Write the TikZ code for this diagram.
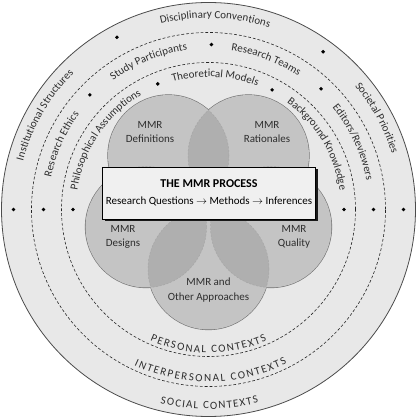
\documentclass[tikz,border=0pt]{standalone}
\usepackage{fontspec}
\setmainfont{Carlito}
\usetikzlibrary{decorations.text,shadows}

\tikzset{
  ringline/.style={draw=black!85, dash pattern=on 2.8pt off 2pt, line width=0.6pt},
  ringlabel/.style={decorate, decoration={text along path, text align=center, text color=labelgray,
      text={|\fontsize{11}{13}\selectfont|#1}}},
  ctxlabel/.style={decorate, decoration={text along path, text align=fit to path, text color=labelgray,
      text={|\fontsize{11}{13}\selectfont|#1}}},
  vennedge/.style={draw=black!55, line width=1.2pt},
  venninner/.style={draw=black!35, dash pattern=on 2pt off 1.6pt, line width=0.5pt},
  vennlabel/.style={text=labelgray, align=center, font=\fontsize{11}{14.5}\selectfont},
  processbox/.style={draw=black, line width=0.8pt, fill=gray!12, minimum width=208pt, minimum height=52pt,
      align=center, font=\fontsize{11}{17}\selectfont,
      drop shadow={shadow xshift=2.5pt, shadow yshift=-2.5pt, fill=black!90, opacity=1}}
}

\begin{document}
\begin{tikzpicture}[x=1pt, y=1pt]
    \colorlet{ringgray}{gray!18}
    \colorlet{venngray}{gray!46}
    \colorlet{overlapgray}{gray!63}
    \colorlet{labelgray}{black!82}
    \useasboundingbox (-208.5,-209.5) rectangle (208.5,209.5);

    % context rings
    \draw[fill=ringgray, draw=black!70, line width=0.8pt] (0,0) circle (207);
    \draw[ringline] (0,0) circle (177);
    \draw[ringline] (0,0) circle (147);

    % ring dots
    \foreach \r/\angs in {195/{0,54,118,180}, 165/{0,47,89,136,180}, 135.5/{0,62,112,180}}
        \foreach \a in \angs
            \fill[black] (\a:\r) circle (1.9);

    % venn circles
    \coordinate (def) at (-40,54);
    \coordinate (rat) at (40,54);
    \coordinate (des) at (-62.5,-17.5);
    \coordinate (qua) at (62.5,-17.5);
    \coordinate (oth) at (0,-59.5);

    \foreach \c in {def,rat,des,qua,oth}
        \draw[vennedge] (\c) circle (60.5);
    \foreach \c in {def,rat,des,qua,oth}
        \fill[venngray] (\c) circle (60.5);
    \foreach \a/\b in {def/rat,rat/qua,qua/oth,oth/des,des/def} {
        \begin{scope}
            \clip (\a) circle (60.5);
            \fill[overlapgray] (\b) circle (60.5);
            \draw[venninner] (\b) circle (60.5);
        \end{scope}
        \begin{scope}
            \clip (\b) circle (60.5);
            \draw[venninner] (\a) circle (60.5);
        \end{scope}
    }

    % venn labels
    \node[vennlabel] (ldef) at (-58.5,77.5) {MMR\\Definitions};
    \node[vennlabel] (lrat) at (58.5,77.5) {MMR\\Rationales};
    \node[vennlabel] (ldes) at (-85.5,-27.5) {MMR\\Designs};
    \node[vennlabel] (lqua) at (85.5,-27.5) {MMR\\Quality};
    \node[vennlabel] (loth) at (0,-80.5) {MMR and\\Other Approaches};

    % the process box
    \node[processbox] (process) at (0.5,16.5)
        {{\fontsize{12}{17}\selectfont\bfseries THE MMR PROCESS}\\Research Questions $\rightarrow$ Methods $\rightarrow$ Inferences};

    % social ring
    \path[ringlabel={Institutional Structures}] (195:191.5) arc[start angle=195, end angle=105, radius=191.5];
    \path[ringlabel={Disciplinary Conventions}] (133:191.5) arc[start angle=133, end angle=43, radius=191.5];
    \path[ringlabel={Societal Priorities}] (73.5:191.5) arc[start angle=73.5, end angle=-16.5, radius=191.5];
    \path[ctxlabel={SOCIAL CONTEXTS}] (256:199.5) arc[start angle=256, end angle=284.5, radius=199.5];

    % interpersonal ring
    \path[ringlabel={Research Ethics}] (201:160.5) arc[start angle=201, end angle=111, radius=160.5];
    \path[ringlabel={Study Participants}] (157:160.5) arc[start angle=157, end angle=67, radius=160.5];
    \path[ringlabel={Research Teams}] (114:160.5) arc[start angle=114, end angle=24, radius=160.5];
    \path[ringlabel={Editors/Reviewers}] (70:160.5) arc[start angle=70, end angle=-20, radius=160.5];
    \path[ctxlabel={INTERPERSONAL CONTEXTS}] (244.5:172.5) arc[start angle=244.5, end angle=297, radius=172.5];

    % personal ring
    \path[ringlabel={Philosophical Assumptions}] (196:132.5) arc[start angle=196, end angle=96, radius=132.5];
    \path[ringlabel={Theoretical Models}] (137:132.5) arc[start angle=137, end angle=37, radius=132.5];
    \path[ringlabel={Background Knowledge}] (81:132.5) arc[start angle=81, end angle=-19, radius=132.5];
    \path[ctxlabel={PERSONAL CONTEXTS}] (246:143.5) arc[start angle=246, end angle=294, radius=143.5];
\end{tikzpicture}
\end{document}
